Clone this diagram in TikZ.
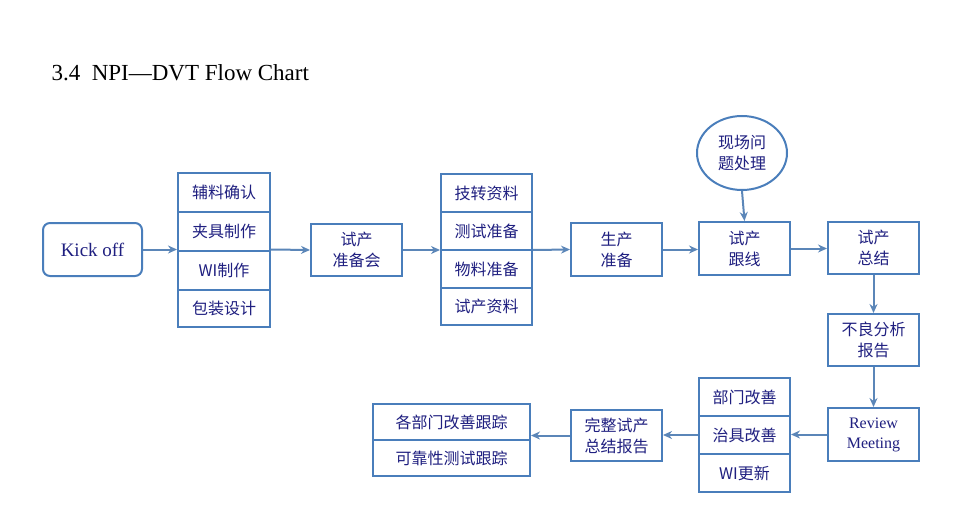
\documentclass[tikz,border=0pt]{standalone}
\usepackage{fontspec}
\setmainfont{Liberation Serif}
\newfontfamily\cjk{Noto Sans CJK SC}
\usetikzlibrary{arrows.meta,shapes.geometric}
\definecolor{bd}{HTML}{4A7EBB}
\definecolor{tx}{HTML}{1F1F80}
\definecolor{ar}{HTML}{5B86B8}
\begin{document}
\begin{tikzpicture}[x=1pt,y=-1pt,
 bx/.style={draw=bd,line width=2pt,fill=white,text=tx,font=\cjk\fontsize{16}{21}\selectfont,align=center,inner sep=0pt},
 ar/.style={draw=ar,line width=2pt,-{Stealth[length=9pt,width=8pt]}}]
\useasboundingbox (0,0) rectangle (960,505);
\node[anchor=west,font=\fontsize{23}{26}\selectfont] (t) at (48,73) {3.4\ \ NPI—DVT Flow Chart};
\node[bx,rounded corners=7pt,minimum width=99pt,minimum height=53pt,font=\fontsize{19}{22}\selectfont] (k) at (92.5,249.5) {Kick off};
\foreach \i/\t/\ya/\yb in {1/辅料确认/173/212,2/夹具制作/212/251,3/WI制作/251/290,4/包装设计/290/327}
 \node[bx,minimum width=92pt,minimum height={\yb-\ya}] (s1\i) at (224,{(\ya+\yb)/2}) {\t};
\node[bx,minimum width=91pt,minimum height=52pt] (a) at (356.5,250) {试产\\准备会};
\foreach \i/\t/\ya/\yb in {1/技转资料/174/212,2/测试准备/212/250,3/物料准备/250/288,4/试产资料/288/325}
 \node[bx,minimum width=91pt,minimum height={\yb-\ya}] (s2\i) at (486.5,{(\ya+\yb)/2}) {\t};
\node[bx,minimum width=91pt,minimum height=53pt] (b) at (616.5,249.5) {生产\\准备};
\node[bx,minimum width=91pt,minimum height=53pt] (c) at (744.5,248.5) {试产\\跟线};
\node[bx,ellipse,minimum width=90pt,minimum height=74pt] (e) at (742,153) {现场问\\题处理};
\node[bx,minimum width=91pt,minimum height=52pt] (d) at (873.5,248) {试产\\总结};
\node[bx,minimum width=91pt,minimum height=52pt] (f) at (873.5,340) {不良分析\\报告};
\node[bx,minimum width=91pt,minimum height=53pt,font=\fontsize{16}{20}\selectfont] (g) at (873.5,434.5) {Review\\Meeting};
\foreach \i/\t/\ya/\yb in {1/部门改善/378/416,2/治具改善/416/454,3/WI更新/454/492}
 \node[bx,minimum width=91pt,minimum height={\yb-\ya}] (s3\i) at (744.5,{(\ya+\yb)/2}) {\t};
\node[bx,minimum width=91pt,minimum height=51pt] (h) at (616.5,435.5) {完整试产\\总结报告};
\foreach \i/\t/\ya/\yb in {1/各部门改善跟踪/404/440,2/可靠性测试跟踪/440/476}
 \node[bx,minimum width=157pt,minimum height={\yb-\ya}] (s4\i) at (451.5,{(\ya+\yb)/2}) {\t};
\draw[ar] (k.east) -- (k.east -| s11.west);
\draw[ar] (k.east -| s11.east) -- (a.west);
\draw[ar] (a.east) -- (a.east -| s21.west);
\draw[ar] (a.east -| s21.east) -- (b.west);
\draw[ar] (b.east) -- (b.east -| c.west);
\draw[ar] (c.east) -- (c.east -| d.west);
\draw[ar] (e.south) -- (c.north);
\draw[ar] (d.south) -- (f.north);
\draw[ar] (f.south) -- (g.north);
\draw[ar] (g.west) -- (g.west -| s32.east);
\draw[ar] (s32.west) -- (s32.west -| h.east);
\draw[ar] (h.west) -- (h.west -| s41.east);
\end{tikzpicture}
\end{document}
